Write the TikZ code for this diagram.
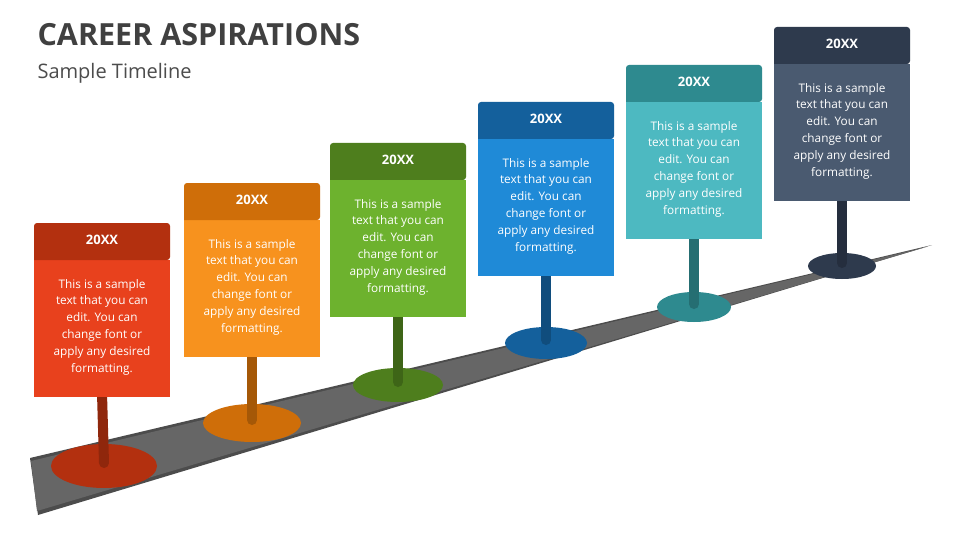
\documentclass[tikz,border=0pt]{standalone}
\usepackage{fontspec}
\setmainfont{Open Sans}
\begin{document}
\begin{tikzpicture}[x=1pt,y=-1pt,
  hdr/.style={font=\bfseries\fontsize{13}{14}\selectfont,text=white},
  txt/.style={font=\fontsize{11.8}{16.8}\selectfont,text=white,align=center},
  pole/.style={line width=10pt,line cap=round}]
\useasboundingbox (0,0) rectangle (960,540);
\fill[white] (0,0) rectangle (960,540);
\node[anchor=west,font=\bfseries\fontsize{30.5}{34}\selectfont,text=black!75] (title) at (34,35) {CAREER ASPIRATIONS};
\node[anchor=west,font=\fontsize{20}{24}\selectfont,text=black!70] (sub) at (34,73) {Sample Timeline};
% road
\coordinate (rl1) at (30,458);
\coordinate (rl2) at (38,515);
\coordinate (rr) at (932,245);
\fill[black!70] (rl1) -- (rr) -- (rl2) -- cycle;
\fill[black!60] (31,461) -- (928,246.5) -- (37,511) -- cycle;
% signs
\foreach \x/\y/\ex/\ey/\rx/\ry/\hc/\bc [count=\i] in {
  34/223/104/466/53/22/B3300F/E8411D,
  184/183/252/423/49/19/CF6E09/F7921E,
  330/143/398/385/45/17/4E7E1D/6DB22E,
  478/102/546/343/41/16/14609C/1F8AD7,
  626/65/694/307/37/15/2E8A8F/4DB9C1,
  774/27/842/266/34/13/2E3A4D/4A5A70}{
  \definecolor{hc\i}{HTML}{\hc}
  \definecolor{bc\i}{HTML}{\bc}
  \fill[hc\i] (\ex,\ey) ellipse [x radius=\rx, y radius=\ry];
  \draw[pole,hc\i!80!black] (\x+68,\y+170) -- (\ex,\ey-3);
  \fill[bc\i] (\x,\y+37) rectangle (\x+136,\y+174);
  \fill[hc\i,rounded corners=3pt] (\x,\y+37) -- (\x,\y) -- (\x+136,\y) -- (\x+136,\y+37) [sharp corners] -- cycle;
  \node[hdr] (h\i) at (\x+68,\y+17) {20XX};
  \node[txt] (t\i) at (\x+68,\y+104) {This is a sample\\text that you can\\edit. You can\\change font or\\apply any desired\\formatting.};
}
\end{tikzpicture}
\end{document}
